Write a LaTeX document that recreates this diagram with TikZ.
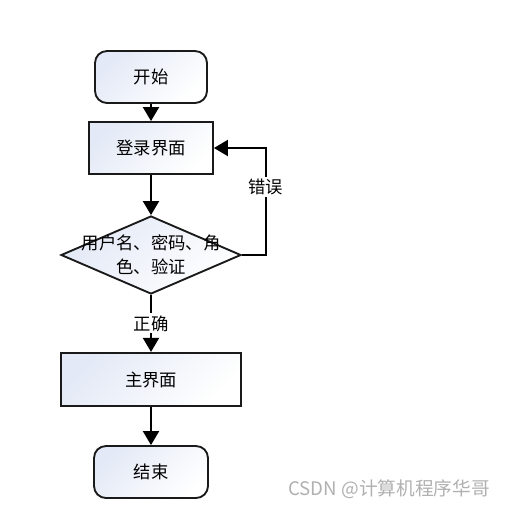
\documentclass[tikz,border=0pt]{standalone}
\usepackage{fontspec}
\usepackage{tikz}
\usetikzlibrary{arrows.meta, shapes.geometric}
\newfontfamily\cjk{Noto Sans CJK SC}
\definecolor{mPaleBlue}{HTML}{E3E9F6}
\definecolor{mBorder}{HTML}{1A1A1A}
\definecolor{mMark}{HTML}{B0B0B0}

\begin{document}
\begin{tikzpicture}[x=0.75pt, y=-0.75pt,
    shade/.style={top color=mPaleBlue, bottom color=white, shading angle=45},
    box/.style={draw=mBorder, line width=1.4pt, shade, inner sep=0pt,
      font=\cjk\fontsize{13}{18}\selectfont},
    term/.style={box, rounded corners=9pt},
    flow/.style={line width=1.5pt, -{Triangle[width=12pt, length=10.5pt]}},
    tag/.style={fill=white, inner sep=1.5pt, font=\cjk\fontsize{13}{18}\selectfont}]
    \useasboundingbox (0,0) rectangle (510,508);
    \node[term, minimum width=84pt, minimum height=39pt] (start) at (151,77) {开始};
    \node[box, minimum width=93pt, minimum height=39pt] (login) at (151,148) {登录界面};
    \node[box, diamond, minimum width=135pt, minimum height=58.5pt,
      label={[align=center, font=\cjk\fontsize{13}{18}\selectfont]center:用户名、密码、角\\色、验证}] (check) at (151,255) {};
    \node[box, minimum width=135pt, minimum height=40pt] (main) at (151,379.5) {主界面};
    \node[term, minimum width=85.5pt, minimum height=39pt] (end) at (151,472) {结束};
    \draw[flow] (start) -- (login);
    \draw[flow] (login) -- (check);
    \draw[flow] (check) -- node[tag] {正确} (main);
    \draw[flow] (main) -- (end);
    \draw[flow] (check.east) -- ++(24,0) |- node[tag, pos=0.32] {错误} (login.east);
    \node[font=\cjk\fontsize{14}{16}\selectfont, text=mMark] (mark) at (389,489) {CSDN @计算机程序华哥};
\end{tikzpicture}
\end{document}
